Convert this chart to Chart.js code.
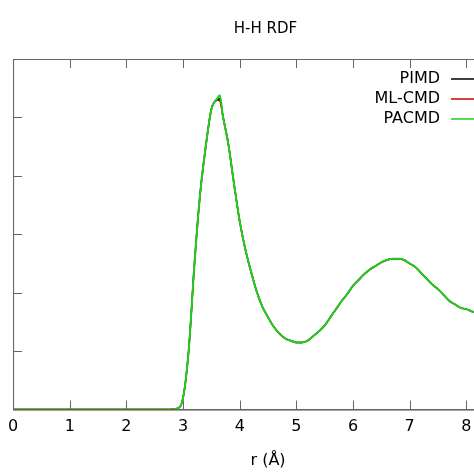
<!DOCTYPE html>
<html><head><meta charset="utf-8">
<script src="https://cdn.jsdelivr.net/npm/chart.js"></script>
<style>html,body{margin:0;padding:0;overflow:hidden;background:#fff;width:474px;height:474px}#w{width:540px;height:474px}</style>
</head><body><div id="w"><canvas id="c"></canvas></div>
<script>
const rValues=[0,0.5,1,1.5,2,2.5,2.7,2.8,2.9,3.0,3.1,3.2,3.3,3.4,3.5,3.6,3.65,3.7,3.8,3.9,4.0,4.1,4.2,4.3,4.4,4.5,4.6,4.7,4.8,4.9,5.0,5.1,5.2,5.3,5.4,5.5,5.6,5.7,5.8,5.9,6.0,6.1,6.2,6.3,6.4,6.5,6.6,6.7,6.8,6.9,7.0,7.1,7.2,7.3,7.4,7.5,7.6,7.7,7.8,7.9,8.0,8.1,8.2,8.3];
const pimd=[0,0,0,0,0,0,0,0.002,0.01,0.1,0.51,1.24,1.84,2.25,2.57,2.65,2.66,2.52,2.27,1.93,1.61,1.37,1.18,1.01,0.88,0.79,0.71,0.65,0.61,0.59,0.575,0.575,0.59,0.63,0.67,0.72,0.79,0.86,0.93,0.99,1.06,1.11,1.16,1.2,1.23,1.26,1.28,1.29,1.29,1.28,1.25,1.22,1.17,1.12,1.07,1.03,0.98,0.93,0.9,0.87,0.86,0.84,0.83,0.82];
const mlcmd=pimd.map(v=>v); mlcmd[16]=2.64;
const pacmd=pimd.map(v=>v); pacmd[16]=2.69; pacmd[15]=2.66;
const seriesNames=["PIMD","ML-CMD","PACMD"];
const seriesColors=["#000000","#cc0000","#22cc22"];
const xTicks=[0,1,2,3,4,5,6,7,8,9];
const mk=a=>rValues.map((x,i)=>({x,y:a[i]}));
const inTicks={id:'in',afterDraw(ch){const c=ch.ctx,a=ch.chartArea,x=ch.scales.x,y=ch.scales.y;c.save();c.strokeStyle='#666';c.lineWidth=1;c.beginPath();
x.ticks.forEach(t=>{const p=Math.round(x.getPixelForValue(t.value))+0.5;if(t.value<=0)return;c.moveTo(p,a.bottom);c.lineTo(p,a.bottom-9);c.moveTo(p,a.top);c.lineTo(p,a.top+9);});
y.ticks.forEach(t=>{const p=Math.round(y.getPixelForValue(t.value))+0.5;if(t.value<=0||t.value>=3)return;c.moveTo(a.left,p);c.lineTo(a.left+9,p);});
c.stroke();
c.font='16px "DejaVu Sans"';c.textAlign='right';c.textBaseline='middle';c.fillStyle='#000';
seriesNames.forEach((n,i)=>{const yy=79+i*20;c.fillText(n,440,yy);c.strokeStyle=seriesColors[i];c.lineWidth=1.5;c.beginPath();c.moveTo(451,yy);c.lineTo(490,yy);c.stroke();});
c.restore();}};
new Chart(document.getElementById('c'),{type:'line',
data:{datasets:[0,1,2].map(i=>({label:seriesNames[i],data:mk([pimd,mlcmd,pacmd][i]),borderColor:seriesColors[i],borderWidth:i==2?2:1.5,pointRadius:0,cubicInterpolationMode:'monotone',order:2-i}))},
options:{responsive:true,maintainAspectRatio:false,animation:false,layout:{padding:{left:8,right:17,top:0,bottom:0}},
plugins:{legend:{display:false},tooltip:{enabled:false},title:{display:true,text:'H-H RDF',color:'#000',font:{family:'DejaVu Sans',size:15,weight:'normal'},padding:{top:20,bottom:21}}},
scales:{x:{type:'linear',min:0,max:9,afterBuildTicks:s=>{s.ticks=xTicks.map(v=>({value:v}))},grid:{display:false,drawTicks:false},border:{color:'#666'},ticks:{color:'#000',font:{family:'DejaVu Sans',size:16},padding:8,maxRotation:0},title:{display:true,text:'r (Å)',color:'#000',font:{family:'DejaVu Sans',size:16},padding:{top:6,bottom:4}}},
y:{min:0,max:3,ticks:{display:false,stepSize:0.5},grid:{display:false,drawTicks:false},border:{color:'#666'}}}},
plugins:[inTicks,{id:'box',afterDraw(ch){const c=ch.ctx,a=ch.chartArea;c.save();c.strokeStyle='#666';c.lineWidth=1;c.strokeRect(a.left+0.5,a.top+0.5,a.right-a.left,a.bottom-a.top);c.restore();}}]});
</script></body></html>
